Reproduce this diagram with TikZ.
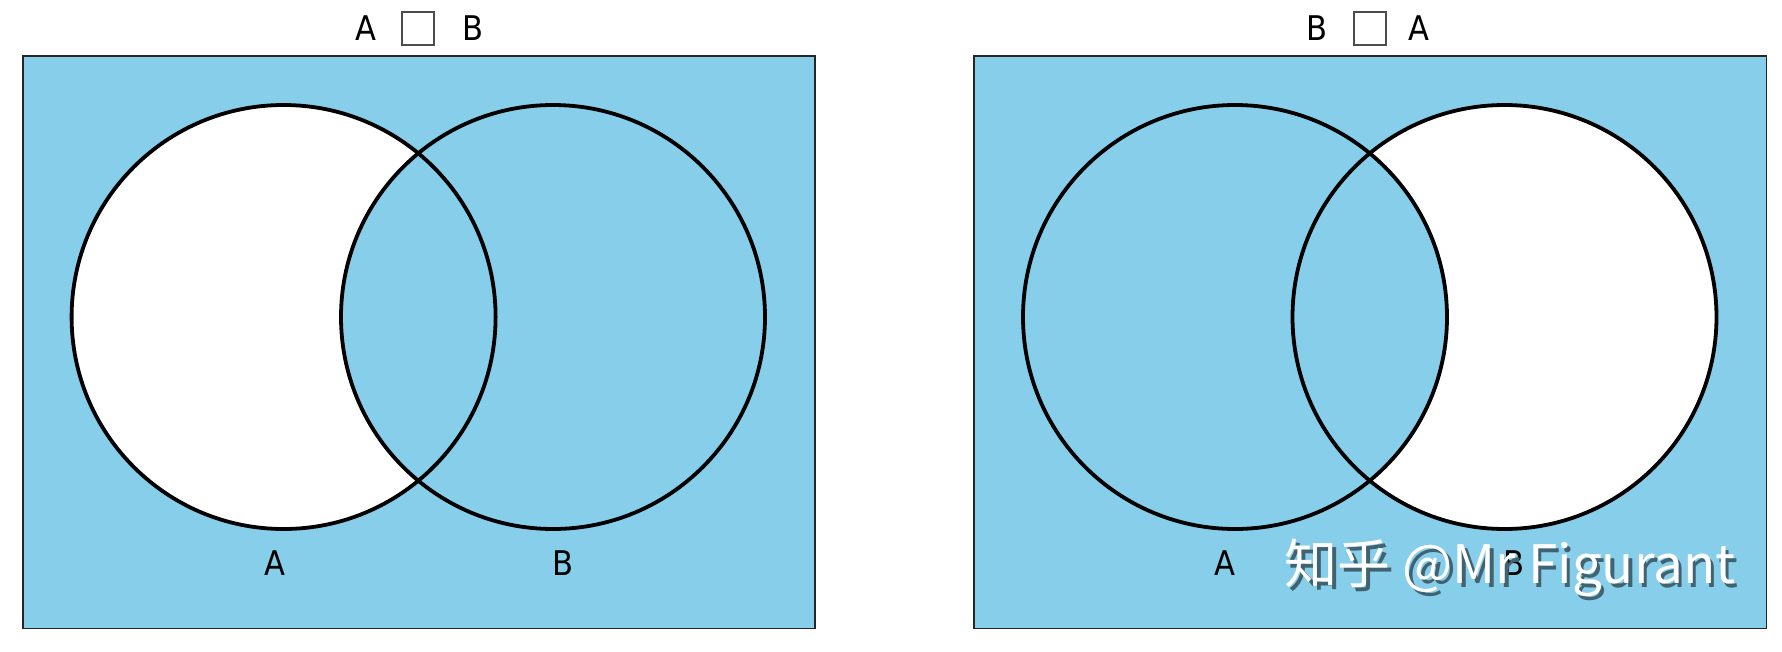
\documentclass[tikz,border=0pt]{standalone}
\usepackage{fontspec}
\setmainfont{DejaVu Sans Condensed}
\newfontfamily\cjkfont{Noto Sans CJK SC}
\usetikzlibrary{positioning}
\definecolor{vennblue}{HTML}{87CEEB}

\tikzset{
  panel/.style={fill=vennblue,draw=black!85,line width=1.6pt},
  ring/.style={draw=black,line width=3.8pt},
  setname/.style={font=\fontsize{34}{34}\selectfont,text=black,inner sep=0pt},
  tofu/.style={draw=black!70,line width=1.2pt,minimum width=32pt,minimum height=33pt,inner sep=0pt},
  mark text/.style={font=\cjkfont\fontsize{53}{53}\selectfont,inner sep=0pt},
}

\begin{document}
\begin{tikzpicture}[x=1pt,y=-1pt]
\useasboundingbox[fill=white] (0,0) rectangle (1782,651);

% left panel
\draw[panel] (22.7,55.7) rectangle (815,628.5);
\fill[white] (283.6,317) circle (212pt);
\fill[vennblue] (553,317) circle (212pt);
\draw[ring] (283.6,317) circle (212pt);
\draw[ring] (553,317) circle (212pt);

\node[tofu] (boxL) at (418,28.5) {};
\node[setname,left=25pt of boxL] (titleLA) {A};
\node[setname,right=28pt of boxL] (titleLB) {B};
\node[setname] (labLA) at (274.5,563) {A};
\node[setname] (labLB) at (563,563) {B};

% right panel
\draw[panel] (974,55.7) rectangle (1766.5,628.5);
\fill[white] (1504.5,317) circle (212pt);
\fill[vennblue] (1235,317) circle (212pt);
\draw[ring] (1235,317) circle (212pt);
\draw[ring] (1504.5,317) circle (212pt);

\node[tofu] (boxR) at (1370,28.5) {};
\node[setname,left=26pt of boxR] (titleRB) {B};
\node[setname,right=22pt of boxR] (titleRA) {A};
\node[setname] (labRA) at (1225,563) {A};
\node[setname] (labRB) at (1514,563) {B};

% watermark
\node[mark text,text=black!40!vennblue!80!black] (markshadow) at (1513.5,571.5) {知乎 @Mr Figurant};
\node[mark text,text=white] (mark) at (1510,568) {知乎 @Mr Figurant};

\end{tikzpicture}
\end{document}
